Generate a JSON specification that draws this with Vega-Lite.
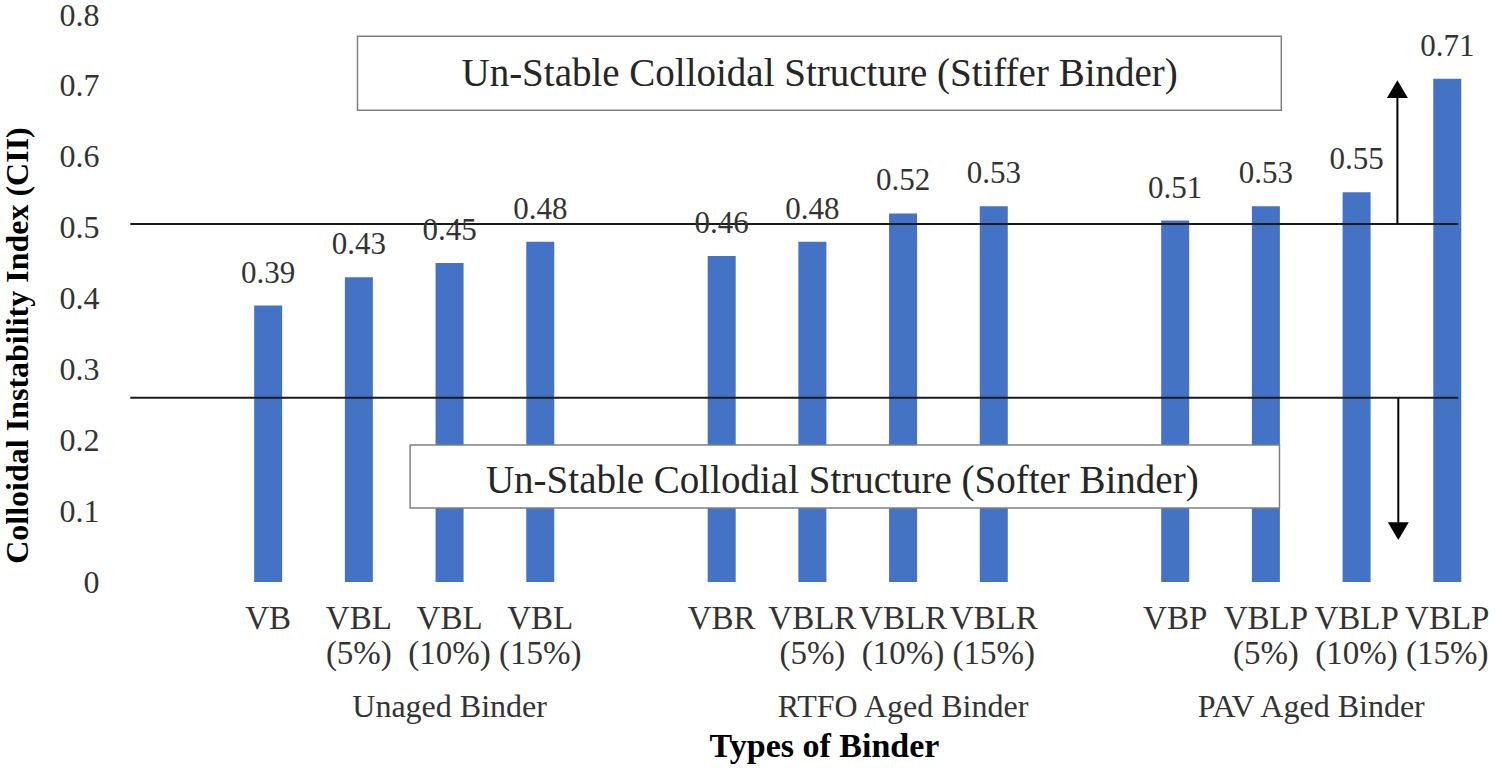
{
  "$schema": "https://vega.github.io/schema/vega-lite/v6.json",
  "autosize": {"type": "none"},
  "padding": {"left": 151, "top": 15, "right": 0, "bottom": 193},
  "width": 1346,
  "height": 567,
  "background": "white",
  "config": {
    "view": {"stroke": null},
    "font": "Liberation Serif",
    "text": {"font": "Liberation Serif"}
  },
  "data": {
    "values": [
      {"idx": 0, "binder": "VB", "group": "Unaged Binder", "cii": 0.39},
      {"idx": 1, "binder": "VBL\n(5%)", "group": "Unaged Binder", "cii": 0.43},
      {"idx": 2, "binder": "VBL\n(10%)", "group": "Unaged Binder", "cii": 0.45},
      {"idx": 3, "binder": "VBL\n(15%)", "group": "Unaged Binder", "cii": 0.48},
      {"idx": 5, "binder": "VBR", "group": "RTFO Aged Binder", "cii": 0.46},
      {"idx": 6, "binder": "VBLR\n(5%)", "group": "RTFO Aged Binder", "cii": 0.48},
      {"idx": 7, "binder": "VBLR\n(10%)", "group": "RTFO Aged Binder", "cii": 0.52},
      {"idx": 8, "binder": "VBLR\n(15%)", "group": "RTFO Aged Binder", "cii": 0.53},
      {"idx": 10, "binder": "VBP", "group": "PAV Aged Binder", "cii": 0.51},
      {"idx": 11, "binder": "VBLP\n(5%)", "group": "PAV Aged Binder", "cii": 0.53},
      {"idx": 12, "binder": "VBLP\n(10%)", "group": "PAV Aged Binder", "cii": 0.55},
      {"idx": 13, "binder": "VBLP\n(15%)", "group": "PAV Aged Binder", "cii": 0.71}
    ]
  },
  "layer": [
    {
      "mark": {"type": "bar", "size": 28, "color": "#4472C4"},
      "encoding": {
        "x": {
          "field": "idx", "type": "quantitative",
          "scale": {"domain": [-1.2366, 13.493], "nice": false, "zero": false},
          "axis": {
            "labels": false, "ticks": false, "domain": false, "grid": false,
            "title": "Types of Binder",
            "titleFont": "Liberation Serif", "titleFontSize": 34, "titleFontWeight": "bold",
            "titleColor": "#000000", "titleBaseline": "alphabetic", "titleY": 174
          }
        },
        "y": {
          "field": "cii", "type": "quantitative",
          "scale": {"domain": [0, 0.8], "nice": false},
          "axis": {
            "values": [0, 0.1, 0.2, 0.3, 0.4, 0.5, 0.6, 0.7, 0.8],
            "format": ".1~f",
            "grid": false, "domain": false, "ticks": false,
            "labelPadding": 52, "labelFont": "Liberation Serif", "labelFontSize": 32,
            "labelColor": "#333333",
            "title": "Colloidal Instability Index (CII)",
            "titleFont": "Liberation Serif", "titleFontSize": 32, "titleFontWeight": "bold",
            "titleColor": "#000000", "titleBaseline": "middle", "titleX": -134, "titleY": 330
          }
        }
      }
    },
    {
      "data": {"values": [{"line": "upper"}]},
      "mark": {"type": "rule", "color": "#1a1a1a", "strokeWidth": 2},
      "encoding": {
        "x": {"datum": -1.52, "type": "quantitative"},
        "x2": {"datum": 13.12},
        "y": {"datum": 0.505, "type": "quantitative"}
      }
    },
    {
      "data": {"values": [{"line": "lower"}]},
      "mark": {"type": "rule", "color": "#1a1a1a", "strokeWidth": 2},
      "encoding": {
        "x": {"datum": -1.52, "type": "quantitative"},
        "x2": {"datum": 13.12},
        "y": {"datum": 0.26, "type": "quantitative"}
      }
    },
    {
      "data": {"values": [{"note": "Un-Stable Colloidal Structure (Stiffer Binder)"}]},
      "mark": {"type": "rect", "fill": "white", "stroke": "#808080", "strokeWidth": 1.5},
      "encoding": {
        "x": {"datum": 0.985, "type": "quantitative"},
        "x2": {"datum": 11.17},
        "y": {"datum": 0.770, "type": "quantitative"},
        "y2": {"datum": 0.6657}
      }
    },
    {
      "data": {"values": [{"note": "Un-Stable Colloidal Structure (Stiffer Binder)"}]},
      "mark": {"type": "text", "fontSize": 39, "color": "#262626", "baseline": "alphabetic", "align": "center"},
      "encoding": {
        "x": {"datum": 6.08, "type": "quantitative"},
        "y": {"datum": 0.700, "type": "quantitative"},
        "text": {"field": "note"}
      }
    },
    {
      "data": {"values": [{"note": "Un-Stable Collodial Structure (Softer Binder)"}]},
      "mark": {"type": "rect", "fill": "white", "stroke": "#808080", "strokeWidth": 1.5},
      "encoding": {
        "x": {"datum": 1.565, "type": "quantitative"},
        "x2": {"datum": 11.15},
        "y": {"datum": 0.1932, "type": "quantitative"},
        "y2": {"datum": 0.1044}
      }
    },
    {
      "data": {"values": [{"note": "Un-Stable Collodial Structure (Softer Binder)"}]},
      "mark": {"type": "text", "fontSize": 39, "color": "#262626", "baseline": "alphabetic", "align": "center"},
      "encoding": {
        "x": {"datum": 6.33, "type": "quantitative"},
        "y": {"datum": 0.1255, "type": "quantitative"},
        "text": {"field": "note"}
      }
    },
    {
      "mark": {"type": "text", "fontSize": 31, "color": "#333333", "baseline": "alphabetic", "align": "center", "dy": -23},
      "encoding": {
        "x": {"field": "idx", "type": "quantitative"},
        "y": {"field": "cii", "type": "quantitative"},
        "text": {"field": "cii", "type": "quantitative", "format": ".2f"}
      }
    },
    {
      "mark": {"type": "text", "fontSize": 33, "color": "#333333", "baseline": "alphabetic", "align": "center", "lineBreak": "\n", "lineHeight": 35},
      "encoding": {
        "x": {"field": "idx", "type": "quantitative"},
        "y": {"datum": -0.0663, "type": "quantitative"},
        "text": {"field": "binder"}
      }
    },
    {
      "data": {"values": [{"group": "Unaged Binder"}]},
      "mark": {"type": "text", "fontSize": 32, "color": "#333333", "baseline": "alphabetic", "align": "center"},
      "encoding": {
        "x": {"datum": 2, "type": "quantitative"},
        "y": {"datum": -0.1904, "type": "quantitative"},
        "text": {"field": "group"}
      }
    },
    {
      "data": {"values": [{"group": "RTFO Aged Binder"}]},
      "mark": {"type": "text", "fontSize": 32, "color": "#333333", "baseline": "alphabetic", "align": "center"},
      "encoding": {
        "x": {"datum": 7, "type": "quantitative"},
        "y": {"datum": -0.1904, "type": "quantitative"},
        "text": {"field": "group"}
      }
    },
    {
      "data": {"values": [{"group": "PAV Aged Binder"}]},
      "mark": {"type": "text", "fontSize": 32, "color": "#333333", "baseline": "alphabetic", "align": "center"},
      "encoding": {
        "x": {"datum": 11.5, "type": "quantitative"},
        "y": {"datum": -0.1904, "type": "quantitative"},
        "text": {"field": "group"}
      }
    },
    {
      "data": {"values": [{"arrow": "up"}]},
      "mark": {"type": "rule", "color": "#000000", "strokeWidth": 2},
      "encoding": {
        "x": {"datum": 12.45, "type": "quantitative"},
        "y": {"datum": 0.505, "type": "quantitative"},
        "y2": {"datum": 0.686}
      }
    },
    {
      "data": {"values": [{"arrow": "down"}]},
      "mark": {"type": "rule", "color": "#000000", "strokeWidth": 2},
      "encoding": {
        "x": {"datum": 12.46, "type": "quantitative"},
        "y": {"datum": 0.26, "type": "quantitative"},
        "y2": {"datum": 0.082}
      }
    },
    {
      "data": {"values": [{"arrow": "up"}]},
      "mark": {"type": "point", "shape": "M0,-0.85L1,0.85L-1,0.85Z", "size": 440, "filled": true, "color": "#000000", "opacity": 1},
      "encoding": {
        "x": {"datum": 12.45, "type": "quantitative"},
        "y": {"datum": 0.6953, "type": "quantitative"}
      }
    },
    {
      "data": {"values": [{"arrow": "down"}]},
      "mark": {"type": "point", "shape": "M0,0.85L1,-0.85L-1,-0.85Z", "size": 440, "filled": true, "color": "#000000", "opacity": 1},
      "encoding": {
        "x": {"datum": 12.46, "type": "quantitative"},
        "y": {"datum": 0.0719, "type": "quantitative"}
      }
    }
  ]
}
